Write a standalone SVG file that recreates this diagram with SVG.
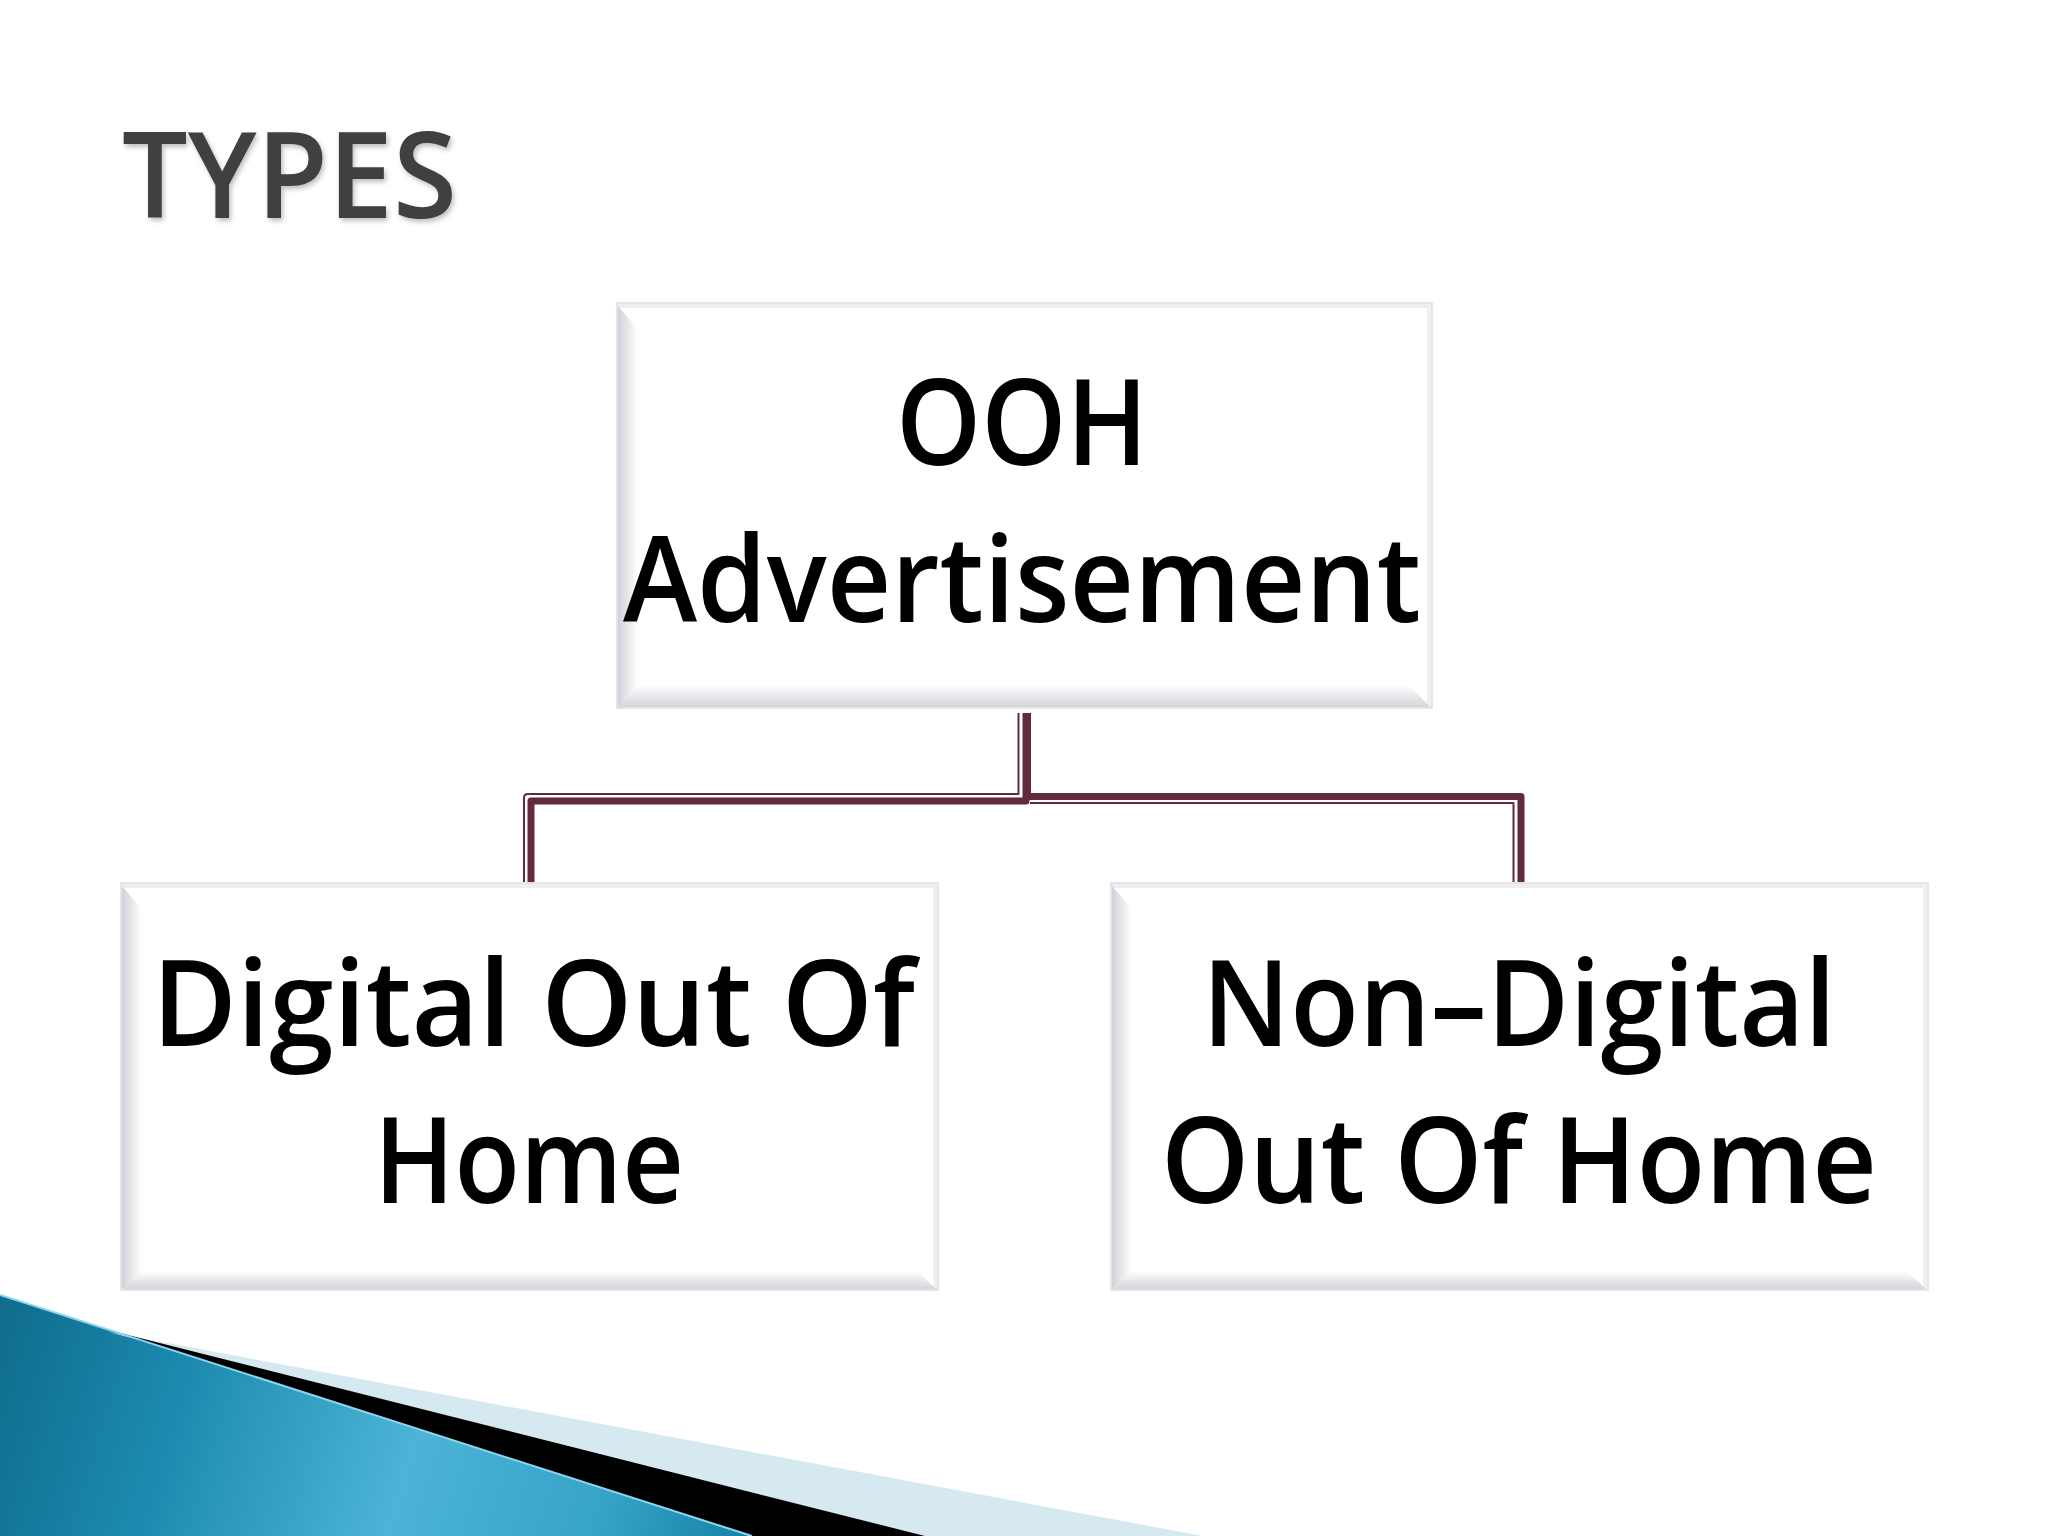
<svg xmlns="http://www.w3.org/2000/svg" width="2048" height="1536" viewBox="0 0 2048 1536">
<defs>
<style>
.lbl{font-family:"Open Sans","Liberation Sans",sans-serif;font-weight:600;font-size:120px;fill:#000}
.ttl{font-family:"Open Sans","Liberation Sans",sans-serif;font-weight:600;font-size:120px;fill:#404040}
.outer{fill:#fff;stroke:#e4e4e9;stroke-width:2}
.lb{fill:url(#gL)}
.bb{fill:url(#gB)}
.tb{fill:#eeeef2}
.rb{fill:#f0f0f4}
.cthick{fill:none;stroke:#632a3b;stroke-width:7;stroke-linejoin:round}
.cthin{fill:none;stroke:#632a3b;stroke-width:2;stroke-linejoin:round}
</style>
<linearGradient id="gL" x1="0" y1="0" x2="1" y2="0">
<stop offset="0" stop-color="#d0d0d8"/><stop offset="1" stop-color="#fdfdfd"/>
</linearGradient>
<linearGradient id="gB" x1="0" y1="0" x2="0" y2="1">
<stop offset="0" stop-color="#fdfdfd"/><stop offset="1" stop-color="#d4d4da"/>
</linearGradient>
<linearGradient id="gTeal" gradientUnits="userSpaceOnUse" x1="0" y1="1300" x2="760" y2="1536">
<stop offset="0" stop-color="#0f6c8b"/><stop offset="0.25" stop-color="#1c8ab0"/><stop offset="0.55" stop-color="#4cb4d6"/><stop offset="0.8" stop-color="#36a3c8"/><stop offset="1" stop-color="#137fa4"/>
</linearGradient>
<filter id="sh" x="-10%" y="-20%" width="130%" height="150%">
<feDropShadow dx="2" dy="3" stdDeviation="2.5" flood-color="#000" flood-opacity="0.25"/>
</filter>
</defs>
<rect width="2048" height="1536" fill="#fff"/>
<g id="title">
<text class="ttl" x="122" y="218" textLength="335" lengthAdjust="spacingAndGlyphs" filter="url(#sh)">TYPES</text>
</g>
<g id="decoration">
<path d="M0,1295 L750,1536 L0,1536 Z" fill="url(#gTeal)"/>
<path d="M108,1332 L1203,1536 L925,1536 Z" fill="#d6e8f0"/>
<path d="M112,1331 L925,1536 L752,1536 Z" fill="#000"/>
<path d="M0,1295 L752,1536" stroke="#8fd3ea" stroke-width="2" fill="none"/>
</g>
<g id="connectors">
<path class="cthin" d="M1018.5,713 V794 H528 Q524,794 524,798 V884"/>
<path class="cthick" d="M1026,713 V801 H531 V884"/>
<path class="cthick" d="M1027.5,713 V796.5 H1521 V884"/>
<path class="cthin" d="M1030,803 H1513.5 V884"/>
</g>
<g id="node-ooh">
<rect class="outer" x="617" y="303" width="815" height="405"/>
<rect class="tb" x="618" y="304" width="813" height="4"/>
<rect class="rb" x="1427" y="304" width="4" height="403"/>
<polygon class="lb" points="618,306 637,328 637,686 618,707"/>
<polygon class="bb" points="618,707 637,686 1410,686 1430,707"/>
<text class="lbl" x="896" y="465" textLength="252" lengthAdjust="spacingAndGlyphs">OOH</text>
<text class="lbl" x="623" y="622" textLength="798" lengthAdjust="spacingAndGlyphs">Advertisement</text>
</g>
<g id="node-dooh">
<rect class="outer" x="121" y="883" width="817" height="407"/>
<rect class="tb" x="122" y="884" width="815" height="4"/>
<rect class="rb" x="933" y="884" width="4" height="405"/>
<polygon class="lb" points="122,886 141,908 141,1272 122,1289"/>
<polygon class="bb" points="122,1289 141,1272 918,1272 936,1289"/>
<text class="lbl" x="152" y="1046" textLength="763" lengthAdjust="spacingAndGlyphs">Digital Out Of</text>
<text class="lbl" x="374" y="1203" textLength="310" lengthAdjust="spacingAndGlyphs">Home</text>
</g>
<g id="node-ndooh">
<rect class="outer" x="1111" y="883" width="817" height="407"/>
<rect class="tb" x="1112" y="884" width="815" height="4"/>
<rect class="rb" x="1923" y="884" width="4" height="405"/>
<polygon class="lb" points="1112,886 1131,908 1131,1272 1112,1289"/>
<polygon class="bb" points="1112,1289 1131,1272 1908,1272 1926,1289"/>
<text class="lbl" x="1202" y="1046" textLength="634" lengthAdjust="spacingAndGlyphs">Non–Digital</text>
<text class="lbl" x="1161" y="1203" textLength="716" lengthAdjust="spacingAndGlyphs">Out Of Home</text>
</g>
</svg>
